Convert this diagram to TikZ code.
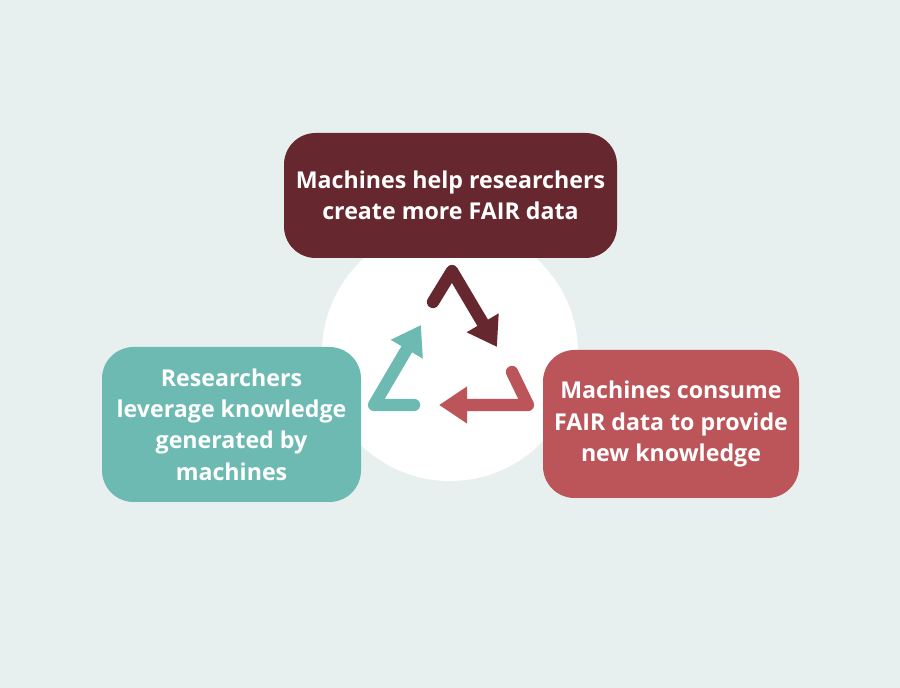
\documentclass[tikz,border=0pt]{standalone}
\usepackage{fontspec}
\setmainfont{Open Sans}
\usepackage{tikz}
\usetikzlibrary{arrows.meta}

\definecolor{bgcol}{HTML}{E7F0EF}
\definecolor{darkred}{HTML}{66282E}
\definecolor{softred}{HTML}{BC555A}
\definecolor{teal}{HTML}{6DBAB2}

\tikzset{
    box/.style={rounded corners=18, inner sep=0pt, align=center, text=white,
        font=\bfseries\fontsize{13.2}{17.8}\selectfont},
    cyc/.style={line width=7pt, line cap=round, line join=round,
        -{Triangle[length=16pt, width=20pt]}}
}

\begin{document}
\begin{tikzpicture}[x=0.02cm, y=-0.02cm]
        \fill[bgcol] (0,0) rectangle (900,688);
        \useasboundingbox (0,0) rectangle (900,688);

        \fill[white] (450,353) circle (128);

        \node[box, fill=darkred, minimum width=333*0.02cm, minimum height=125*0.02cm]
            (top) at (450.5,195.5) {Machines help researchers\\create more FAIR data};
        \node[box, fill=teal, minimum width=259*0.02cm, minimum height=155*0.02cm]
            (left) at (231.5,424.5) {Researchers\\leverage knowledge\\generated by\\machines};
        \node[box, fill=softred, minimum width=256*0.02cm, minimum height=148*0.02cm]
            (right) at (671,424) {Machines consume\\FAIR data to provide\\new knowledge};

        % cycle arrows
        \coordinate (a1) at (433,302);
        \coordinate (a2) at (452,271);
        \coordinate (a3) at (497,347);
        \coordinate (b1) at (512,372);
        \coordinate (b2) at (528,405);
        \coordinate (b3) at (439,405);
        \coordinate (c1) at (414,405);
        \coordinate (c2) at (374,405);
        \coordinate (c3) at (421,325);

        \draw[cyc, darkred] (a1) -- (a2) -- (a3);
        \draw[cyc, softred] (b1) -- (b2) -- (b3);
        \draw[cyc, teal] (c1) -- (c2) -- (c3);
    \end{tikzpicture}
\end{document}
